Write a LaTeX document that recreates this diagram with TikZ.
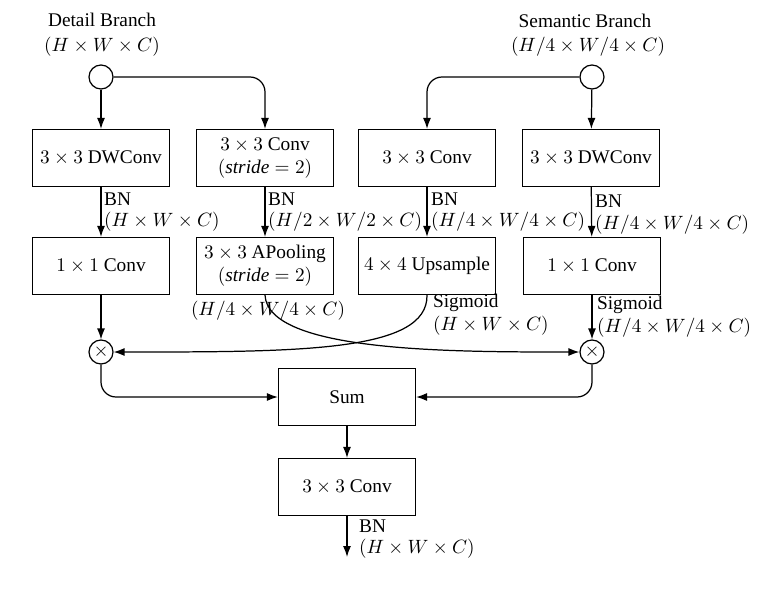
\documentclass[tikz,border=0pt]{standalone}
\usepackage{fontspec}
\setmainfont{Liberation Serif}
\usetikzlibrary{arrows.meta}
\begin{document}
\begin{tikzpicture}[x=0.02cm,y=-0.02cm,
  every node/.style={font=\fontsize{11}{13}\selectfont},
  box/.style={draw,line width=0.7pt,minimum width=2.74cm,minimum height=1.14cm,inner sep=1pt,align=center},
  circ/.style={draw,circle,line width=0.7pt,minimum size=0.48cm,inner sep=0pt},
  arr/.style={-{Latex[length=2.2mm,width=1.6mm]},line width=0.7pt,rounded corners=0.3cm},
  lab/.style={anchor=west,inner sep=1pt}]
\useasboundingbox (0,0) rectangle (767,592);
% inputs
\node (dt) at (102,20) {Detail Branch};
\node (dd) at (102,47) {$(H\times W\times C)$};
\node (st) at (585,21) {Semantic Branch};
\node (sd) at (588,47) {$(H/4\times W/4\times C)$};
\node[circ] (cl) at (101,77) {};
\node[circ] (cr) at (592,77) {};
% row 1
\node[box] (a1) at (101,158) {$3\times3$ DWConv};
\node[box] (b1) at (265,158) {$3\times3$ Conv\\$(\mathit{stride}=2)$};
\node[box] (c1) at (427,158) {$3\times3$ Conv};
\node[box] (d1) at (591,158) {$3\times3$ DWConv};
% row 2
\node[box] (a2) at (101,266) {$1\times1$ Conv};
\node[box] (b2) at (265,266) {$3\times3$ APooling\\$(\mathit{stride}=2)$};
\node[box] (c2) at (427,266) {$4\times4$ Upsample};
\node[box] (d2) at (592,266) {$1\times1$ Conv};
% multiply
\node[circ] (ml) at (101,352) {$\times$};
\node[circ] (mr) at (592,352) {$\times$};
\node[box] (sum) at (347,397) {Sum};
\node[box] (out) at (347,487) {$3\times3$ Conv};
\coordinate (end) at (347,557);
% connectors
\draw[arr] (cl) -- (a1);
\draw[arr] (cl.east) -| (b1.north);
\draw[arr] (cr) -- (d1);
\draw[arr] (cr.west) -| (c1.north);
\draw[arr] (a1) -- (a2);
\draw[arr] (b1) -- (b2);
\draw[arr] (c1) -- (c2);
\draw[arr] (d1) -- (d2);
\node[lab] at (102,199) {BN};
\node[lab] at (102,222) {$(H\times W\times C)$};
\node[lab] at (266,199) {BN};
\node[lab] at (266,222) {$(H/2\times W/2\times C)$};
\node[lab] at (429,199) {BN};
\node[lab] at (429,222) {$(H/4\times W/4\times C)$};
\node[lab] at (593,201) {BN};
\node[lab] at (593,225) {$(H/4\times W/4\times C)$};
\draw[arr] (a2) -- (ml);
\draw[arr] (d2) -- (mr);
\draw[arr] (b2.south) .. controls (268,352) and (450,352) .. (mr.west);
\draw[arr] (c2.south) .. controls (428,352) and (300,352) .. (ml.east);
\node at (268,311) {$(H/4\times W/4\times C)$};
\node[lab] at (431,303) {Sigmoid};
\node[lab] at (431,326) {$(H\times W\times C)$};
\node[lab] at (595,305) {Sigmoid};
\node[lab] at (595,328) {$(H/4\times W/4\times C)$};
\draw[arr] (ml.south) |- (sum.west);
\draw[arr] (mr.south) |- (sum.east);
\draw[arr] (sum) -- (out);
\draw[arr] (out) -- (end);
\node[lab] at (357,526) {BN};
\node[lab] at (357,549) {$(H\times W\times C)$};
\end{tikzpicture}
\end{document}
